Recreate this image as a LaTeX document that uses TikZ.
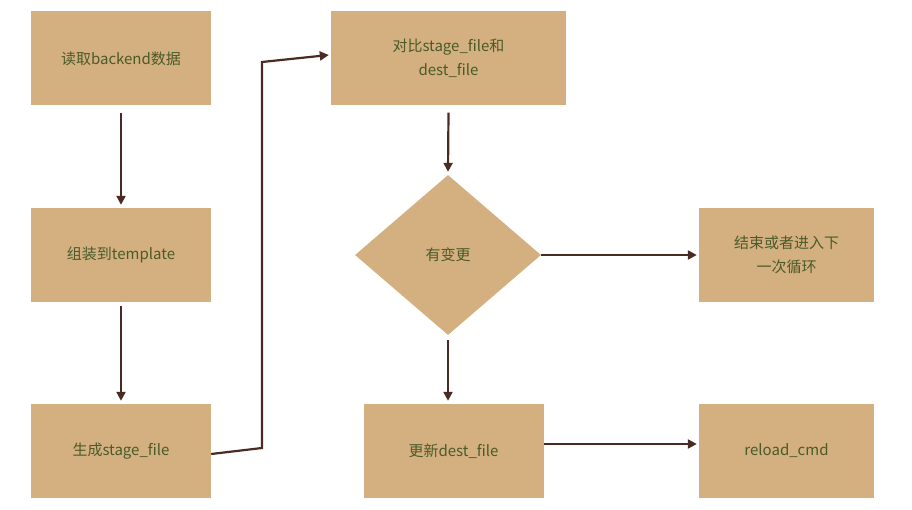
\documentclass[tikz,border=0pt]{standalone}
\usepackage{fontspec}
\setmainfont{Noto Sans CJK SC}
\usetikzlibrary{shapes.geometric,arrows.meta}
\definecolor{boxfill}{HTML}{D4B080}
\definecolor{txt}{HTML}{4A5A2A}
\definecolor{arr}{HTML}{4A2A22}
\begin{document}
\begin{tikzpicture}[x=1pt,y=-1pt,
  box/.style={fill=boxfill,draw=none,minimum width=180pt,minimum height=94pt,inner sep=0pt,text=txt,font=\fontsize{15}{24}\selectfont,align=center},
  con/.style={draw=arr,line width=2.2pt,-{Triangle[length=9pt,width=9pt]}}]
\useasboundingbox (0,0) rectangle (912,510);
\node[box] (b1) at (121,58.5) {读取backend数据};
\node[box] (b2) at (121,255) {组装到template};
\node[box] (b3) at (121,451) {生成stage\_file};
\node[box,minimum width=235pt] (b4) at (448.5,58.5) {对比stage\_file和\\dest\_file};
\node[diamond,fill=boxfill,minimum width=186pt,minimum height=160pt,inner sep=0pt,text=txt,font=\fontsize{15}{24}\selectfont] (d) at (448,255) {有变更};
\node[box,minimum width=175pt] (b5) at (786.5,255) {结束或者进入下\\一次循环};
\node[box] (b6) at (453.5,451) {更新dest\_file};
\node[box,minimum width=175pt] (b7) at (786.5,451) {reload\_cmd};
\draw[con] ([yshift=-7pt]b1.south) -- ([yshift=3pt]b2.north);
\draw[con] ([yshift=-4pt]b2.south) -- ([yshift=3pt]b3.north);
\coordinate (c1) at (262,448);
\coordinate (c2) at (262,62);
\draw[con] ([yshift=-3pt]b3.east) -- (c1) -- (c2) -- ([yshift=3.5pt,xshift=-2pt]b4.west);
\draw[con] ([yshift=-7pt]b4.south) -- ([yshift=3pt]d.north);
\draw[con] ([yshift=-5pt]d.south) -- ([yshift=3pt,xshift=-5.5pt]b6.north);
\draw[con] (d.east) -- ([xshift=-2pt]b5.west);
\draw[con] ([yshift=7pt]b6.east) -- ([yshift=7pt,xshift=-2pt]b7.west);
\end{tikzpicture}
\end{document}
